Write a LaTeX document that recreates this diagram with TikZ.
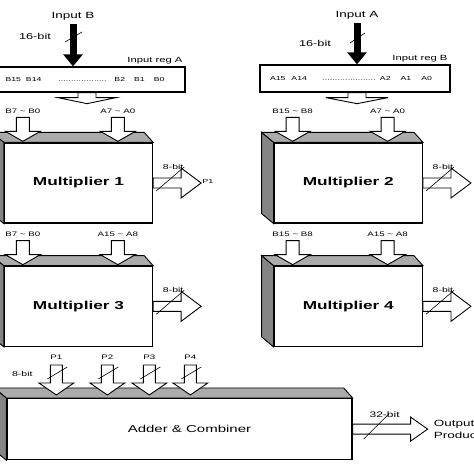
\documentclass[tikz,border=0pt]{standalone}
\usepackage{fontspec}
\setmainfont[FakeStretch=1.5]{Liberation Sans}
\usetikzlibrary{positioning,arrows.meta}

\begin{document}
\begin{tikzpicture}[x=1pt,y=-1pt,
   font=\fontsize{7}{8}\selectfont,
   every node/.style={inner sep=1pt},
   block/.style={draw,line width=1.3pt,fill=white,minimum width=148pt,minimum height=80pt,font=\fontsize{11.5}{13}\selectfont\bfseries},
   reg/.style={draw,line width=1.3pt,minimum height=25pt,font=\fontsize{5.8}{7}\selectfont},
   topface/.style={draw,line width=.9pt,fill=black!33},
   sideface/.style={draw,line width=.9pt,fill=black!48},
   bus/.style={line width=7pt,shorten <=3pt,-{Triangle[length=12pt,width=19pt]}},
   slash/.style={line width=.6pt},
   lbl/.style={font=\fontsize{6.5}{7}\selectfont},
   pics/hollow/.style n args={4}{code={\draw[fill=white,line width=.9pt] (0,-#3) -- ({#1-#2},-#3) -- ({#1-#2},-#4) -- (#1,0) -- ({#1-#2},#4) -- ({#1-#2},#3) -- (0,#3) -- cycle;}}]
\useasboundingbox (0,0) rectangle (474,474);

% input registers
\node[reg,minimum width=189pt] (regA) at (90.5,79.5) {\makebox[170pt][l]{B15\hspace{5pt}B14\hspace{16pt}\makebox[50pt]{\dotfill}\hspace{7pt}B2\hspace{9pt}B1\hspace{9pt}B0}};
\node[reg,minimum width=190pt,minimum height=27pt] (regB) at (355,78.5) {\makebox[170pt][l]{A15\hspace{6pt}A14\hspace{14pt}\makebox[56pt]{\dotfill}\hspace{3pt}A2\hspace{10pt}A1\hspace{10pt}A0}};
\node[font=\fontsize{7.5}{8}\selectfont,above left=1pt and 2pt of regA.north east] (regAname) {Input reg A};
\node[font=\fontsize{7.5}{8}\selectfont,above left=1pt and 2pt of regB.north east] (regBname) {Input reg B};
\node[font=\fontsize{9}{10}\selectfont] (inB) at (73,16) {Input B};
\node[font=\fontsize{9}{10}\selectfont] (inA) at (357,15) {Input A};
\draw[bus] (inB) -- (inB |- regA.north);
\draw[bus] (inA) -- (inA |- regB.north);
\draw[slash] ([shift={(-8,26)}]inB.center) -- ++(17,-10);
\draw[slash] ([shift={(-7,28)}]inA.center) -- ++(15,-10);
\node[font=\fontsize{8.5}{9}\selectfont] (bitsB) at (35,36) {16-bit};
\node[font=\fontsize{8.5}{9}\selectfont] (bitsA) at (315,43) {16-bit};
\pic[rotate=-90] at ([xshift=-3.5pt]regA.south) {hollow={11}{6}{9}{29}};
\pic[rotate=-90] at ([xshift=2pt]regB.south) {hollow={11}{6}{9}{31}};

% multipliers and adder
\node[block] (mul1) at (78.5,183) {Multiplier 1};
\node[block,right=120.5pt of mul1] (mul2) {Multiplier 2};
\node[block,below=42pt of mul1] (mul3) {Multiplier 3};
\node[block,below=42pt of mul2] (mul4) {Multiplier 4};
\node[block,minimum width=345pt,minimum height=61pt,font=\fontsize{10}{12}\selectfont,below right=51pt and 2.5pt of mul3.south west] (add) {\hspace{20pt}Adder \& Combiner};
\foreach \b in {mul1,mul2,mul3,mul4,add}{
  \filldraw[sideface] (\b.north west) -- ++(-12,-10) -- ([shift={(-12,-10)}]\b.south west) -- (\b.south west) -- cycle;
  \filldraw[topface] (\b.north west) -- ++(-12,-10) -- ([shift={(-9,-10)}]\b.north east) -- (\b.north east) -- cycle;
}

% operand buses
\foreach \b/\l/\r in {mul1/B7 \textasciitilde{} B0/A7 \textasciitilde{} A0,mul2/B15 \textasciitilde{} B8/A7 \textasciitilde{} A0,mul3/B7 \textasciitilde{} B0/A15 \textasciitilde{} A8,mul4/B15 \textasciitilde{} B8/A15 \textasciitilde{} A8}{
  \pic[rotate=-90] at ([shift={(19,-25)}]\b.north west) {hollow={24}{10}{6.5}{17.5}};
  \pic[rotate=-90] at ([shift={(114,-25)}]\b.north west) {hollow={24}{10}{6.5}{17.5}};
  \node[lbl] (\b-l) at ([shift={(19,-31)}]\b.north west) {\l};
  \node[lbl] (\b-r) at ([shift={(114,-31)}]\b.north west) {\r};
}

% partial products
\foreach \b in {mul1,mul2,mul3,mul4}{
  \pic at (\b.east) {hollow={48}{20}{5}{15}};
  \draw[slash] ([shift={(3,8)}]\b.east) -- ++(28,-24);
  \node[lbl,font=\fontsize{7}{8}\selectfont] (\b-bits) at ([shift={(20,-16)}]\b.east) {8-bit};
}
\node[anchor=west,font=\fontsize{6}{7}\selectfont] (p1out) at ([shift={(48,-2)}]mul1.east) {P1};

\foreach \x/\p in {50/P1,101/P2,143/P3,184/P4}{
  \pic[rotate=-90] at ([shift={(\x,-33)}]add.north west) {hollow={30}{12}{6}{17.5}};
  \draw[slash] ([shift={(\x-9,-19)}]add.north west) -- ++(20,-12);
  \node[lbl] (in\p) at ([shift={(\x,-41)}]add.north west) {\p};
}
\node[font=\fontsize{7}{8}\selectfont] (addbits8) at ([shift={(16,-24)}]add.north west) {8-bit};

% output
\pic at (add.east) {hollow={75}{17}{5}{12}};
\draw[slash] ([shift={(11,10)}]add.east) -- ++(25,-25);
\node[font=\fontsize{8}{9}\selectfont] (addbits) at ([shift={(32,-14)}]add.east) {32-bit};
\node[anchor=west,align=left,font=\fontsize{9}{12}\selectfont] (out) at ([xshift=80pt]add.east) {Output\\Product};
\end{tikzpicture}
\end{document}
